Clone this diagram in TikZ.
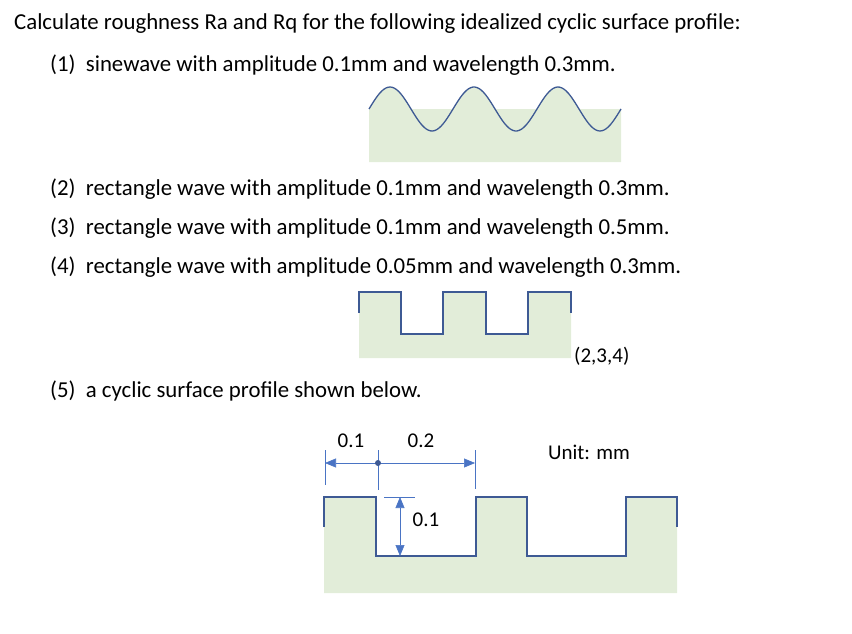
\documentclass[tikz,border=0pt]{standalone}
\usepackage{fontspec}
\setmainfont{Carlito}
\usetikzlibrary{arrows.meta}
\definecolor{fillg}{HTML}{E2EDD9}
\definecolor{lineb}{HTML}{3E5A94}
\definecolor{dimb}{HTML}{4A74C4}
\begin{document}
\begin{tikzpicture}[x=1pt,y=-1pt,
  txt/.style={anchor=west,inner sep=0pt,font=\fontsize{22.8}{26}\selectfont},
  lbl/.style={inner sep=0pt,font=\fontsize{21}{24}\selectfont},
  prof/.style={draw=lineb,line width=1.3pt},
  dim/.style={draw=dimb,line width=0.6pt},
  tip/.style={Triangle[length=11pt,width=9pt]},
  dimarr/.style={dim,{Triangle[length=11pt,width=9pt]}-{Triangle[length=11pt,width=9pt]}}]
\useasboundingbox (0,0) rectangle (852,634);
\node[txt] (t0) at (14,24) {Calculate roughness Ra and Rq for the following idealized cyclic surface profile:};
\node[txt] (t1) at (50,65) {(1)\ \ sinewave with amplitude 0.1mm and wavelength 0.3mm.};
\node[txt] (t2) at (50,189) {(2)\ \ rectangle wave with amplitude 0.1mm and wavelength 0.3mm.};
\node[txt] (t3) at (50,228) {(3)\ \ rectangle wave with amplitude 0.1mm and wavelength 0.5mm.};
\node[txt] (t4) at (50,267) {(4)\ \ rectangle wave with amplitude 0.05mm and wavelength 0.3mm.};
\node[txt] (t5) at (50,391) {(5)\ \ a cyclic surface profile shown below.};
% sine
\fill[fillg] (369,109) rectangle (621,162);
\fill[fillg] plot[domain=369:621,samples=120] (\x,{109-22*sin((\x-369)/84*360)}) -- (621,162) -- (369,162) -- cycle;
\draw[prof] plot[domain=369:621,samples=120] (\x,{109-22*sin((\x-369)/84*360)});
% rectangle wave
\fill[fillg] (359,292) -| (401,334) -| (443,292) -| (486,334) -| (528,292) -| (571,358) -| cycle;
\draw[prof] (359,313) |- (401,292) |- (443,334) |- (486,292) |- (528,334) |- (571,292) -- (571,313);
\node[lbl,anchor=west] (l234) at (574,356) {(2,3,4)};
% profile 5
\fill[fillg] (324,497) -| (376,556) -| (476,497) -| (527,556) -| (626,497) -| (677,593) -| cycle;
\draw[prof] (324,527) |- (376,497) |- (476,556) |- (527,497) |- (626,556) |- (677,497) -- (677,527);
\draw[dim] (325,450) -- (325,485);
\draw[dim] (378,450) -- (378,490);
\draw[dim] (475,450) -- (475,489);
\coordinate (dl) at (325,463);
\coordinate (dm) at (378,463);
\coordinate (dr) at (475,463);
\draw[dim,{Triangle[length=11pt,width=9pt]}-] (dl) -- (dm);
\draw[dim,-{Triangle[length=11pt,width=9pt]}] (dm) -- (dr);
\fill[lineb] (dm) circle (3pt);
\draw[dim] (384,497) -- (415,497);
\coordinate (vt) at (400,497);
\coordinate (vb) at (400,556);
\draw[dimarr] (vt) -- (vb);
\node[lbl] (d1) at (351,441) {0.1};
\node[lbl] (d2) at (421,441) {0.2};
\node[lbl] (d3) at (426,520) {0.1};
\node[lbl] (u) at (589,452) {Unit: mm};
\end{tikzpicture}
\end{document}
